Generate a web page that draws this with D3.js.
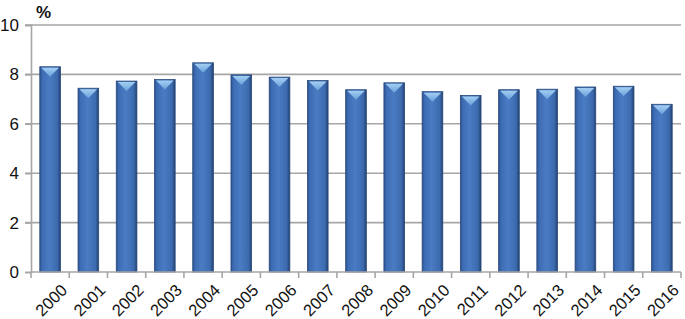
<!DOCTYPE html>
<html>
<head>
<meta charset="utf-8">
<script src="https://cdn.jsdelivr.net/npm/d3@7"></script>
<style>
  body { margin: 0; background: #fff; }
  text { font-family: "Liberation Sans", Arial, sans-serif; fill: #111; }
</style>
</head>
<body>
<script>
// share by year
var years = ["2000","2001","2002","2003","2004","2005","2006","2007","2008",
             "2009","2010","2011","2012","2013","2014","2015","2016"];
var values = [8.31, 7.44, 7.73, 7.79, 8.47, 7.98, 7.89, 7.75, 7.38,
              7.66, 7.30, 7.15, 7.38, 7.40, 7.49, 7.52, 6.79];
var yTicks = [0, 2, 4, 6, 8, 10];

var w = 685, h = 319;
var margin = {left: 31, right: 4, top: 25, bottom: 47};

var svg = d3.select("body").append("svg")
  .attr("width", w)
  .attr("height", h);

var x = d3.scaleBand()
  .domain(years)
  .range([margin.left, w - margin.right])
  .paddingInner(0.46)
  .paddingOuter(0.23);

var y = d3.scaleLinear()
  .domain([0, 10])
  .range([h - margin.bottom, margin.top]);

// gradient across the bar to give the rounded look
var defs = svg.append("defs");
var grad = defs.append("linearGradient")
  .attr("id", "barGrad")
  .attr("x1", "0%").attr("x2", "100%").attr("y1", "0%").attr("y2", "0%");
grad.append("stop").attr("offset", "0%").attr("stop-color", "#2d5290");
grad.append("stop").attr("offset", "12%").attr("stop-color", "#3d6cb3");
grad.append("stop").attr("offset", "45%").attr("stop-color", "#4a7cc3");
grad.append("stop").attr("offset", "85%").attr("stop-color", "#3c6aae");
grad.append("stop").attr("offset", "100%").attr("stop-color", "#23416f");

var capGrad = defs.append("linearGradient")
  .attr("id", "capGrad")
  .attr("x1", "0%").attr("x2", "0%").attr("y1", "0%").attr("y2", "100%");
capGrad.append("stop").attr("offset", "0%").attr("stop-color", "#a9d3f5");
capGrad.append("stop").attr("offset", "100%").attr("stop-color", "#6aa3dc");

// gridlines
svg.append("g")
  .selectAll("line")
  .data(yTicks.filter(function(d) { return d > 0; }))
  .enter()
  .append("line")
  .attr("x1", margin.left - 6)
  .attr("x2", w - margin.right)
  .attr("y1", function(d) { return y(d); })
  .attr("y2", function(d) { return y(d); })
  .attr("stroke", "#a6a6a6")
  .attr("stroke-width", 1.6);

// bars
var bars = svg.append("g")
  .selectAll("g")
  .data(values)
  .enter()
  .append("g");

bars.append("rect")
  .attr("x", function(d, i) { return x(years[i]); })
  .attr("y", function(d) { return y(d); })
  .attr("width", x.bandwidth())
  .attr("height", function(d) { return y(0) - y(d); })
  .attr("fill", "url(#barGrad)")
  .attr("stroke", "#27487c")
  .attr("stroke-width", 0.8);

// light bevel on top of each bar
bars.append("path")
  .attr("d", function(d, i) {
    var x0 = x(years[i]) + 1.5, x1 = x(years[i]) + x.bandwidth() - 1.5, yt = y(d) + 1;
    var cx = (x0 + x1) / 2;
    return "M" + x0 + "," + yt + "L" + x1 + "," + yt +
           "L" + (x1 - 3) + "," + (yt + 3) + "L" + cx + "," + (yt + 9) +
           "L" + (x0 + 3) + "," + (yt + 3) + "Z";
  })
  .attr("fill", "url(#capGrad)")
  .attr("opacity", 0.95);

// y axis
var yAxis = svg.append("g")
  .attr("transform", "translate(" + margin.left + ",0)")
  .call(d3.axisLeft(y).tickValues(yTicks).tickSize(6).tickPadding(6).tickFormat(d3.format("d")));
yAxis.select(".domain").attr("stroke", "#a6a6a6").attr("stroke-width", 1.6);
yAxis.selectAll(".tick line").attr("stroke", "#a6a6a6").attr("stroke-width", 1.6);
yAxis.selectAll(".tick text")
  .style("font-family", "'Liberation Sans', Arial, sans-serif")
  .style("font-size", "17px")
  .attr("fill", "#111");

// x axis with ticks at band edges
var xAxis = svg.append("g")
  .attr("transform", "translate(0," + y(0) + ")");
xAxis.append("line")
  .attr("x1", margin.left)
  .attr("x2", w - margin.right)
  .attr("stroke", "#a6a6a6")
  .attr("stroke-width", 1.6);

var step = x.step();
var edges = years.map(function(d) { return x(d) - (step - x.bandwidth()) / 2; });
edges.push(w - margin.right);
xAxis.selectAll(".edge")
  .data(edges)
  .enter()
  .append("line")
  .attr("x1", function(d) { return d; })
  .attr("x2", function(d) { return d; })
  .attr("y1", 0)
  .attr("y2", 6)
  .attr("stroke", "#a6a6a6")
  .attr("stroke-width", 1.6);

xAxis.selectAll(".lbl")
  .data(years)
  .enter()
  .append("text")
  .attr("transform", function(d) {
    return "translate(" + (x(d) + x.bandwidth() / 2 + 10) + ",11) rotate(-45)";
  })
  .attr("text-anchor", "end")
  .attr("dy", "0.7em")
  .style("font-size", "16.5px")
  .text(function(d) { return d; });

svg.append("text")
  .attr("x", 36)
  .attr("y", 18)
  .style("font-size", "17px")
  .style("font-weight", "bold")
  .text("%");
</script>
</body>
</html>
